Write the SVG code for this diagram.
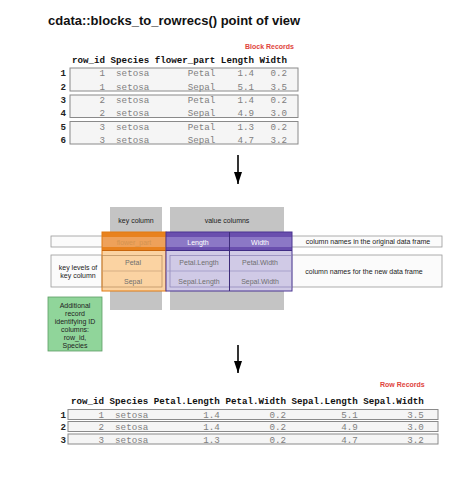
<svg xmlns="http://www.w3.org/2000/svg" width="474" height="481" viewBox="0 0 474 481">
<style>
.title{font-family:"Liberation Sans",Arial,sans-serif;font-weight:bold;font-size:13px;fill:#111}
.red{font-family:"Liberation Sans",Arial,sans-serif;font-weight:bold;font-size:7px;fill:#e0433c}
.hdr{font-family:"Liberation Mono","Courier New",monospace;font-weight:bold;font-size:9.2px;fill:#111}
.row{font-family:"Liberation Mono","Courier New",monospace;font-size:9.2px;fill:#808080}
.num{font-family:"Liberation Mono","Courier New",monospace;font-weight:bold;font-size:9.2px;fill:#222;text-anchor:end}
.rbox{fill:#f5f5f5;stroke:#8a8a8a;stroke-width:1}
.lbl{font-family:"Liberation Sans",Arial,sans-serif;font-size:7px;fill:#222;text-anchor:middle}
.cell{font-family:"Liberation Sans",Arial,sans-serif;font-size:7px;fill:#6f6f6f;text-anchor:middle}
.band{fill:#fbfbfb;stroke:#999;stroke-width:0.8}
.grey{fill:#c4c4c4}
</style>
<defs>
<marker id="ah" viewBox="0 0 12 8" refX="12" refY="4" markerWidth="12" markerHeight="8" markerUnits="userSpaceOnUse" orient="auto">
<path d="M0,0 L12,4 L0,8 Z" fill="#000"/>
</marker>
</defs>

<text class="title" x="48" y="24.5">cdata::blocks_to_rowrecs() point of view</text>

<g id="block-records">
<text class="red" x="245" y="49">Block Records</text>
<text class="hdr" x="72" y="63">row_id Species flower_part Length Width</text>
<rect class="rbox" x="70" y="68" width="228" height="23"/>
<rect class="rbox" x="70" y="95" width="228" height="22.5"/>
<rect class="rbox" x="70" y="121.5" width="228" height="22.5"/>
<text class="num" x="66" y="76">1</text>
<text class="num" x="66" y="89.5">2</text>
<text class="num" x="66" y="103">3</text>
<text class="num" x="66" y="116">4</text>
<text class="num" x="66" y="129.5">5</text>
<text class="num" x="66" y="142.5">6</text>
<text class="row" x="72" y="76" xml:space="preserve">     1  setosa       Petal    1.4   0.2</text>
<text class="row" x="72" y="89.5" xml:space="preserve">     1  setosa       Sepal    5.1   3.5</text>
<text class="row" x="72" y="103" xml:space="preserve">     2  setosa       Petal    1.4   0.2</text>
<text class="row" x="72" y="116" xml:space="preserve">     2  setosa       Sepal    4.9   3.0</text>
<text class="row" x="72" y="129.5" xml:space="preserve">     3  setosa       Petal    1.3   0.2</text>
<text class="row" x="72" y="142.5" xml:space="preserve">     3  setosa       Sepal    4.7   3.2</text>
</g>

<g id="connectors">
<line x1="238" y1="155" x2="238" y2="184" stroke="#000" stroke-width="1.6" marker-end="url(#ah)"/>
<line x1="238" y1="345" x2="238" y2="373" stroke="#000" stroke-width="1.6" marker-end="url(#ah)"/>
</g>

<g id="mapping">
<rect class="grey" x="110" y="207" width="52" height="103"/>
<rect class="grey" x="170" y="207" width="114" height="103"/>
<text class="lbl" x="136" y="222.5">key column</text>
<text class="lbl" x="227" y="222.5">value columns</text>

<rect class="band" x="51" y="236" width="391" height="11"/>
<rect class="band" x="51" y="255" width="111" height="32"/>
<rect class="band" x="170" y="255" width="272" height="32"/>

<rect x="102" y="250" width="64" height="41" fill="#fbd3a2"/>
<rect x="102" y="232" width="64" height="18.5" fill="#e8821e"/>
<rect x="102" y="237" width="64" height="10" fill="#eea15a"/>
<rect x="102" y="232" width="64" height="59" fill="none" stroke="#e07a12" stroke-width="1"/>
<line x1="102" y1="250.5" x2="166" y2="250.5" stroke="#c9660c" stroke-width="1"/>
<rect x="102" y="255.5" width="60" height="31.5" fill="none" stroke="#b48a5c" stroke-width="0.7"/>
<line x1="102" y1="271" x2="162" y2="271" stroke="#c8a27a" stroke-width="0.7"/>

<rect x="166" y="250" width="126" height="41" fill="#d0cae6"/>
<rect x="166" y="232" width="126" height="18.5" fill="#6a4fae"/>
<rect x="166" y="237" width="126" height="10" fill="#8c78c6"/>
<rect x="166" y="232" width="126" height="59" fill="none" stroke="#4a3592" stroke-width="1"/>
<line x1="166" y1="250.5" x2="292" y2="250.5" stroke="#3f2c84" stroke-width="1"/>
<rect x="170" y="255.5" width="122" height="31.5" fill="none" stroke="#8a82b4" stroke-width="0.7"/>
<line x1="166" y1="271" x2="292" y2="271" stroke="#9a92c0" stroke-width="0.7"/>
<line x1="229.5" y1="232" x2="229.5" y2="291" stroke="#3d2c7a" stroke-width="1"/>

<text class="cell" x="134" y="244.5" style="fill:#d4934f">flower_part</text>
<text class="cell" x="198" y="244.5" style="fill:#ffffff">Length</text>
<text class="cell" x="260" y="244.5" style="fill:#ffffff">Width</text>
<text class="cell" x="133" y="265">Petal</text>
<text class="cell" x="133" y="283.5">Sepal</text>
<text class="cell" x="199" y="265">Petal.Length</text>
<text class="cell" x="260" y="265">Petal.Width</text>
<text class="cell" x="199" y="283.5">Sepal.Length</text>
<text class="cell" x="260" y="283.5">Sepal.Width</text>

<text class="lbl" x="78" y="269.5">key levels of</text>
<text class="lbl" x="78" y="277.5">key column</text>
<text class="lbl" x="368" y="244">column names in the original data frame</text>
<text class="lbl" x="364" y="273.5">column names for the new data frame</text>
</g>

<g id="id-columns-note">
<rect x="48" y="297" width="54" height="54" fill="#90d59a" stroke="#5c9c64" stroke-width="0.8"/>
<text class="lbl" x="75" y="307.5">Additional</text>
<text class="lbl" x="75" y="315.5">record</text>
<text class="lbl" x="75" y="323.5">identifying ID</text>
<text class="lbl" x="75" y="331.5">columns:</text>
<text class="lbl" x="75" y="339.5">row_id,</text>
<text class="lbl" x="75" y="347.5">Species</text>
</g>

<g id="row-records">
<text class="red" x="380" y="387">Row Records</text>
<text class="hdr" x="71" y="404">row_id Species Petal.Length Petal.Width Sepal.Length Sepal.Width</text>
<rect class="rbox" x="68" y="409.5" width="370" height="10"/>
<rect class="rbox" x="68" y="421.5" width="370" height="10"/>
<rect class="rbox" x="68" y="434" width="370" height="10"/>
<text class="num" x="66" y="417.5">1</text>
<text class="num" x="66" y="430">2</text>
<text class="num" x="66" y="443">3</text>
<text class="row" x="71" y="417.5" xml:space="preserve">     1  setosa          1.4         0.2          5.1         3.5</text>
<text class="row" x="71" y="430" xml:space="preserve">     2  setosa          1.4         0.2          4.9         3.0</text>
<text class="row" x="71" y="443" xml:space="preserve">     3  setosa          1.3         0.2          4.7         3.2</text>
</g>
</svg>
